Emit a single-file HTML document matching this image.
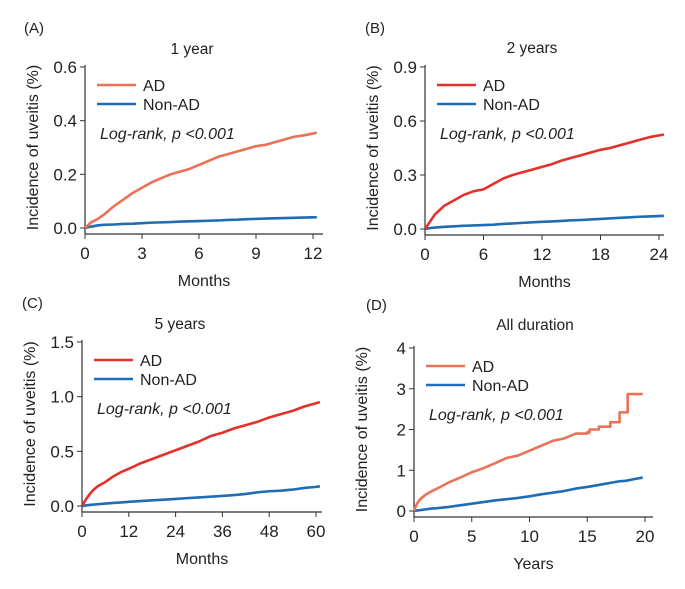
<!DOCTYPE html>
<html><head><meta charset="utf-8"><style>
body{margin:0;background:#fff}
svg text{font-family:"Liberation Sans",Arial,sans-serif;fill:#222}
</style></head><body>
<svg id="s" width="685" height="584" viewBox="0 0 685 584" xmlns="http://www.w3.org/2000/svg"></svg>
<script>
// Panel A (1 year, months)
const aX=[0,0.3,0.7,1,1.5,2,2.5,3,3.5,4,4.5,5,5.5,6,6.5,7,7.5,8,8.5,9,9.5,10,10.5,11,11.5,12,12.2];
const aAD=[0,0.02,0.035,0.05,0.08,0.105,0.13,0.15,0.17,0.185,0.2,0.21,0.22,0.235,0.25,0.265,0.275,0.285,0.295,0.305,0.31,0.32,0.33,0.34,0.345,0.352,0.355];
const aNon=[0,0.005,0.01,0.012,0.013,0.015,0.016,0.018,0.02,0.021,0.022,0.024,0.025,0.026,0.027,0.028,0.03,0.031,0.033,0.034,0.035,0.036,0.037,0.038,0.039,0.04,0.04];
// Panel B (2 years, months)
const bX=[0,0.5,1,2,3,4,5,6,7,8,9,10,11,12,13,14,15,16,17,18,19,20,21,22,23,24,24.5];
const bAD=[0,0.04,0.08,0.13,0.16,0.19,0.21,0.22,0.25,0.28,0.3,0.315,0.33,0.345,0.36,0.38,0.395,0.41,0.425,0.44,0.45,0.465,0.48,0.495,0.51,0.52,0.525];
const bNon=[0,0.005,0.008,0.012,0.015,0.018,0.02,0.022,0.024,0.028,0.031,0.034,0.037,0.04,0.042,0.045,0.048,0.05,0.053,0.056,0.059,0.062,0.065,0.068,0.07,0.072,0.073];
// Panel C (5 years, months)
const cX=[0,1,2,3,4,6,8,10,12,15,18,21,24,27,30,33,36,39,42,45,48,51,54,57,60,61];
const cAD=[0,0.06,0.11,0.15,0.18,0.22,0.27,0.31,0.34,0.39,0.43,0.47,0.51,0.55,0.59,0.64,0.67,0.71,0.74,0.77,0.81,0.84,0.87,0.91,0.94,0.95];
const cNon=[0,0.005,0.01,0.013,0.016,0.022,0.028,0.033,0.038,0.045,0.052,0.058,0.065,0.072,0.078,0.085,0.092,0.1,0.11,0.125,0.135,0.14,0.15,0.165,0.175,0.18];
// Panel D (all duration, years)
const dX=[0,0.2,0.5,1,1.5,2,3,4,5,6,7,8,9,10,11,12,13,14,15,15.2,16,17,17.8,18.3,18.5,19,19.8];
const dAD=[0,0.15,0.28,0.4,0.48,0.55,0.7,0.82,0.95,1.05,1.17,1.3,1.36,1.48,1.6,1.72,1.78,1.9,1.93,2.0,2.07,2.18,2.42,2.42,2.87,2.87,2.87];
const dNon=[0,0.01,0.02,0.04,0.06,0.07,0.1,0.14,0.18,0.22,0.26,0.29,0.32,0.36,0.41,0.45,0.49,0.55,0.59,0.6,0.64,0.69,0.73,0.74,0.75,0.78,0.82];
const aTicksX=[0,3,6,9,12], aTicksY=["0.0","0.2","0.4","0.6"];
const bTicksX=[0,6,12,18,24], bTicksY=["0.0","0.3","0.6","0.9"];
const cTicksX=[0,12,24,36,48,60], cTicksY=["0.0","0.5","1.0","1.5"];
const dTicksX=[0,5,10,15,20], dTicksY=["0","1","2","3","4"];

const NS="http://www.w3.org/2000/svg", svg=document.getElementById('s');
function mk(tag,at,parent,txt){const e=document.createElementNS(NS,tag);for(const k in at)e.setAttribute(k,at[k]);if(txt!=null)e.textContent=txt;(parent||svg).appendChild(e);return e;}
function panel(o){
  const g=mk('g',{});
  
  
  const sx=v=>o.x0+(v-o.xmin)*(o.x1-o.x0)/(o.xmax-o.xmin);
  const yMax=parseFloat(o.ty[o.ty.length-1]);
  const sy=v=>o.y0-v*(o.y0-o.y1)/yMax;
  let t=mk('text',{x:o.lx,y:o.ly,'font-size':15},g,o.label);
  
  
  t=mk('text',{x:o.ttx,y:o.tty,'font-size':15.5,'text-anchor':'middle'},g,o.title);
  
  
  const axB=o.y0+6;
  let ax=mk('line',{x1:o.x0,y1:o.y1-2,x2:o.x0,y2:axB,stroke:'#333','stroke-width':1.2},g);
  
  
  ax=mk('line',{x1:o.x0,y1:axB,x2:o.xend,y2:axB,stroke:'#333','stroke-width':1.2},g);
  
  
  o.ty.forEach(lbl=>{const y=sy(parseFloat(lbl));
    mk('line',{x1:o.x0-5,y1:y,x2:o.x0,y2:y,stroke:'#333'},g);
    const e=mk('text',{x:o.x0-8,y:y+6,'font-size':17,'text-anchor':'end'},g,lbl);
    
    });
  o.tx.forEach(v=>{const x=sx(v);
    mk('line',{x1:x,y1:axB,x2:x,y2:axB+5,stroke:'#333'},g);
    const e=mk('text',{x:x,y:axB+25,'font-size':17,'text-anchor':'middle'},g,String(v));
    
    });
  t=mk('text',{x:(o.x0+o.xend)/2,y:axB+52,'font-size':16,'text-anchor':'middle'},g,o.xt);
  
  
  const cy=(o.y0+o.y1)/2;
  t=mk('text',{x:o.x0-47,y:cy,'font-size':16,'text-anchor':'middle',transform:`rotate(-90 ${o.x0-47} ${cy})`},g,'Incidence of uveitis (%)');
  
  
  [[o.non,'#1f6db3','line-non-ad'],[o.ad,o.adc,'line-ad']].forEach(([ys,c,n])=>{
    let d='';o.xs.forEach((v,i)=>{const X=sx(v),Y=sy(ys[i]);
      if(i===0)d='M'+X+' '+Y;else if(o.stepFrom!=null&&v>=o.stepFrom&&n==='line-ad')d+=' H'+X+' V'+Y;else d+=' L'+X+' '+Y;});
    const p=mk('path',{d:d,fill:'none',stroke:c,'stroke-width':2.6,'stroke-linejoin':'round'},g);
    
    });
  const ly=o.y1+18;
  [[o.adc,'AD',0,'legend-entry-ad'],['#1f6db3','Non-AD',19,'legend-entry-non-ad']].forEach(([c,l,dy,n])=>{
    const lg=mk('g',{},g);
    
    
    mk('line',{x1:o.x0+12,y1:ly+dy,x2:o.x0+51,y2:ly+dy,stroke:c,'stroke-width':2.6},lg);
    mk('text',{x:o.x0+58,y:ly+dy+6,'font-size':16},lg,l);});
  t=mk('text',{x:o.x0+15,y:ly+54,'font-size':16,'font-style':'italic'},g,'Log-rank, p <0.001');
  
  
}
panel({id:'a',label:'(A)',lx:24,ly:33,title:'1 year',ttx:192,tty:54,x0:85,x1:313,xmin:0,xmax:12,xend:323,y0:228,y1:67,xs:aX,ad:aAD,non:aNon,adc:'#ea7257',tx:aTicksX,ty:aTicksY,xt:'Months'});
panel({id:'b',label:'(B)',lx:365,ly:33,title:'2 years',ttx:532,tty:53,x0:425,x1:659,xmin:0,xmax:24,xend:664,y0:229,y1:67,xs:bX,ad:bAD,non:bNon,adc:'#e3312b',tx:bTicksX,ty:bTicksY,xt:'Months'});
panel({id:'c',label:'(C)',lx:22,ly:308,title:'5 years',ttx:180,tty:329,x0:82,x1:316,xmin:0,xmax:60,xend:322,y0:506,y1:342,xs:cX,ad:cAD,non:cNon,adc:'#e3312b',tx:cTicksX,ty:cTicksY,xt:'Months'});
panel({id:'d',label:'(D)',lx:366,ly:310,title:'All duration',ttx:535,tty:330,x0:414,x1:645,xmin:0,xmax:20,xend:653,y0:511,y1:348,xs:dX,ad:dAD,non:dNon,adc:'#ea7257',stepFrom:15,tx:dTicksX,ty:dTicksY,xt:'Years'});
</script>
</body></html>
